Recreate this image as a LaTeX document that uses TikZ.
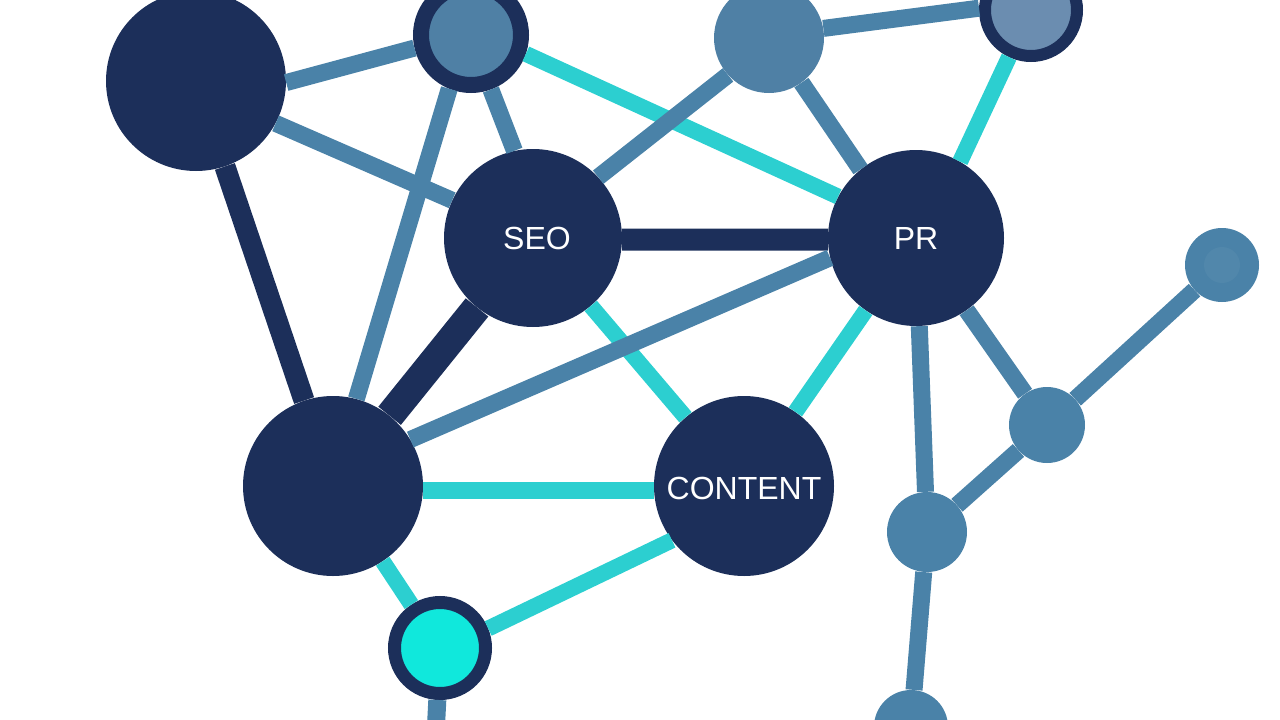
\documentclass[tikz,border=0pt]{standalone}
\usepackage{fontspec}
\setmainfont{Liberation Sans}
\definecolor{navy}{HTML}{1C2F5A}
\definecolor{steel}{HTML}{4A82A8}
\definecolor{slate}{HTML}{4F80A5}
\definecolor{haze}{HTML}{6B8DB0}
\definecolor{aqua}{HTML}{2CCFD0}
\definecolor{spark}{HTML}{10E8DC}
\tikzstyle{hub}=[circle,fill=navy,text=white,inner sep=0pt,
                 font=\fontsize{32}{32}\selectfont]
\tikzstyle{dot}=[circle,fill=steel,inner sep=0pt]
\tikzstyle{ring}=[circle,draw=navy,inner sep=0pt]
\tikzstyle{blue link}=[draw=steel,line width=17pt]
\tikzstyle{aqua link}=[draw=aqua,line width=16pt]
\tikzstyle{navy link}=[draw=navy,line width=21pt]

\begin{document}
\begin{tikzpicture}[x=1pt,y=-1pt]
  \useasboundingbox (0,0) rectangle (1280,720);

  \node[hub,minimum size=180pt] (hubA) at (196,81) {};
  \node[hub,minimum size=180pt] (hubB) at (333,486) {};
  \node[hub,minimum size=178pt] (seo) at (533,238) {\hspace{8pt}SEO};
  \node[hub,minimum size=176pt] (pr) at (916,238) {PR};
  \node[hub,minimum size=180pt] (content) at (744,486) {\raisebox{-13.5pt}[12pt][12pt]{CONTENT}};

  \node[ring,fill=slate,line width=16pt,minimum size=100pt] (ringA) at (471,35) {};
  \node[ring,fill=haze,line width=12pt,minimum size=92pt] (ringB) at (1031,10) {};
  \node[ring,fill=spark,line width=13pt,minimum size=91pt] (ringC) at (440,648) {};

  \node[dot,fill=slate,minimum size=110pt] (top) at (769,38) {};
  \node[dot,minimum size=74pt] (tip) at (1222,265) {};
  \node[dot,minimum size=76pt] (fork) at (1047,425) {};
  \node[dot,minimum size=80pt] (stem) at (927,532) {};
  \node[dot,minimum size=74pt] (foot) at (911,727) {};
  \node[circle,fill=steel!96!white,minimum size=36pt,inner sep=0pt] (tipcore) at (tip) {};
  \coordinate (stub) at (435,745);

  \path[blue link] (hubA.-1) edge (ringA.193);
  \path[blue link] (hubA.-28) edge (seo.155);
  \path[navy link] (hubA) edge (hubB);
  \path[blue link] (ringA.248) edge (hubB.75);
  \path[blue link] (ringA.290) edge (seo.102);
  \path[aqua link] (ringA.-19) edge (pr.152);
  \path[blue link] (top.10) edge (ringB.178);
  \path[blue link] (top.222) edge (seo.43);
  \path[blue link] (top.-54) edge (pr.129);
  \path[aqua link] (ringB.245) edge (pr.60);

  \path[navy link,line width=22pt] (seo.-1) edge (pr.181);
  \path[navy link,line width=29pt] (seo) edge (hubB);
  \path[aqua link] (seo) edge (content);
  \path[blue link] (pr.193) edge (hubB.31);
  \path[aqua link] (pr) edge (content);
  \path[blue link] (pr) edge (stem);
  \path[blue link] (pr) edge (fork);

  \path[aqua link,line width=17pt] (hubB.-3) edge (content.183);
  \path[aqua link] (hubB) edge (ringC);
  \path[aqua link] (content.217) edge (ringC.22);
  \path[blue link] (fork) edge (tip);
  \path[blue link] (fork) edge (stem);
  \path[blue link] (stem) edge (foot);
  \path[blue link,line width=18pt] (ringC) edge (stub);
\end{tikzpicture}
\end{document}
